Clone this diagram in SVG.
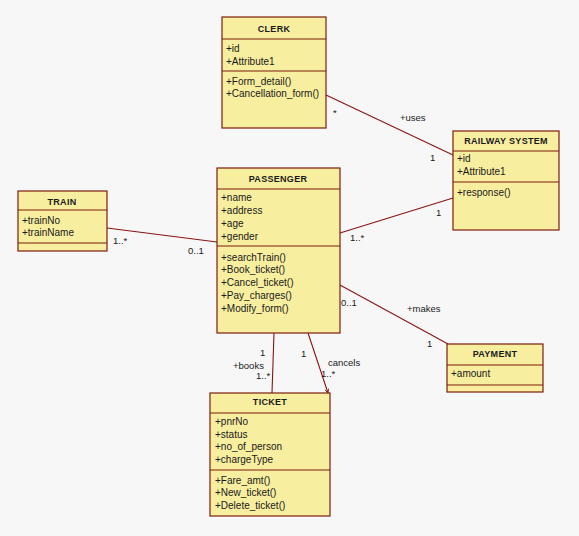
<svg xmlns="http://www.w3.org/2000/svg" width="579" height="536" viewBox="0 0 579 536">
<style>
.box{fill:#f7ee9f;stroke:#7d1d0c;stroke-width:1.2}
.sep{stroke:#7d1d0c;stroke-width:1.1}
.t{font-family:"Liberation Sans",Arial,sans-serif;font-size:10px;fill:#1a1a1a}
.h{font-family:"Liberation Sans",Arial,sans-serif;font-size:9px;font-weight:bold;fill:#1a1a1a;letter-spacing:0.3px}
.ln{stroke:#8a1414;stroke-width:1.1;fill:none}
.lb{font-family:"Liberation Sans",Arial,sans-serif;font-size:9.5px;fill:#1a1a1a}
</style>
<defs>
<marker id="open" viewBox="0 0 10 10" refX="9" refY="5" markerWidth="5" markerHeight="5" orient="auto" markerUnits="userSpaceOnUse">
<path d="M1,1 L9,5 L1,9" fill="none" stroke="#8a1414" stroke-width="1.6"/>
</marker>
</defs>
<rect width="579" height="536" fill="#f7f7f7"/>

<g id="connectors">
<line class="ln" x1="326" y1="95" x2="453" y2="155"/>
<line class="ln" x1="340" y1="233" x2="453" y2="198"/>
<line class="ln" x1="107" y1="228" x2="217" y2="242"/>
<line class="ln" x1="340" y1="285" x2="448" y2="344"/>
<line class="ln" x1="274" y1="333" x2="272" y2="393"/>
<line class="ln" x1="308" y1="333" x2="328" y2="393" marker-end="url(#open)"/>
<text class="lb" x="333" y="116">*</text>
<text class="lb" x="400" y="121">+uses</text>
<text class="lb" x="430" y="161">1</text>
<text class="lb" x="436" y="216">1</text>
<text class="lb" x="350" y="241">1..*</text>
<text class="lb" x="113" y="244">1..*</text>
<text class="lb" x="188" y="254">0..1</text>
<text class="lb" x="341" y="306">0..1</text>
<text class="lb" x="407" y="312">+makes</text>
<text class="lb" x="427" y="347">1</text>
<text class="lb" x="260" y="356">1</text>
<text class="lb" x="233" y="369">+books</text>
<text class="lb" x="256" y="379">1..*</text>
<text class="lb" x="301" y="357">1</text>
<text class="lb" x="328" y="366">cancels</text>
<text class="lb" x="321" y="377">1..*</text>
</g>

<g id="clerk">
<rect class="box" x="222" y="17" width="104" height="111"/>
<line class="sep" x1="222" y1="39" x2="326" y2="39"/>
<line class="sep" x1="222" y1="71" x2="326" y2="71"/>
<text class="h" x="274" y="32" text-anchor="middle">CLERK</text>
<text class="t" x="226" y="52">+id</text>
<text class="t" x="226" y="65">+Attribute1</text>
<text class="t" x="226" y="85">+Form_detail()</text>
<text class="t" x="226" y="97">+Cancellation_form()</text>
</g>

<g id="railway">
<rect class="box" x="453" y="131" width="106" height="99"/>
<line class="sep" x1="453" y1="151" x2="559" y2="151"/>
<line class="sep" x1="453" y1="182" x2="559" y2="182"/>
<text class="h" x="506" y="144" text-anchor="middle">RAILWAY SYSTEM</text>
<text class="t" x="457" y="162">+id</text>
<text class="t" x="457" y="175">+Attribute1</text>
<text class="t" x="457" y="196">+response()</text>
</g>

<g id="train">
<rect class="box" x="18" y="191" width="89" height="60"/>
<line class="sep" x1="18" y1="210" x2="107" y2="210"/>
<line class="sep" x1="18" y1="243" x2="107" y2="243"/>
<text class="h" x="62" y="205" text-anchor="middle">TRAIN</text>
<text class="t" x="22" y="224">+trainNo</text>
<text class="t" x="22" y="236">+trainName</text>
</g>

<g id="passenger">
<rect class="box" x="217" y="168" width="123" height="165"/>
<line class="sep" x1="217" y1="189" x2="340" y2="189"/>
<line class="sep" x1="217" y1="246" x2="340" y2="246"/>
<text class="h" x="278" y="182" text-anchor="middle">PASSENGER</text>
<text class="t" x="221" y="201">+name</text>
<text class="t" x="221" y="214">+address</text>
<text class="t" x="221" y="227">+age</text>
<text class="t" x="221" y="240">+gender</text>
<text class="t" x="221" y="261">+searchTrain()</text>
<text class="t" x="221" y="273">+Book_ticket()</text>
<text class="t" x="221" y="286">+Cancel_ticket()</text>
<text class="t" x="221" y="299">+Pay_charges()</text>
<text class="t" x="221" y="312">+Modify_form()</text>
</g>

<g id="ticket">
<rect class="box" x="210" y="393" width="120" height="123"/>
<line class="sep" x1="210" y1="413" x2="330" y2="413"/>
<line class="sep" x1="210" y1="470" x2="330" y2="470"/>
<text class="h" x="270" y="405" text-anchor="middle">TICKET</text>
<text class="t" x="215" y="425">+pnrNo</text>
<text class="t" x="215" y="438">+status</text>
<text class="t" x="215" y="450">+no_of_person</text>
<text class="t" x="215" y="463">+chargeType</text>
<text class="t" x="215" y="484">+Fare_amt()</text>
<text class="t" x="215" y="496">+New_ticket()</text>
<text class="t" x="215" y="509">+Delete_ticket()</text>
</g>

<g id="payment">
<rect class="box" x="447" y="344" width="96" height="48"/>
<line class="sep" x1="447" y1="365" x2="543" y2="365"/>
<line class="sep" x1="447" y1="385" x2="543" y2="385"/>
<text class="h" x="495" y="357" text-anchor="middle">PAYMENT</text>
<text class="t" x="451" y="377">+amount</text>
</g>
</svg>
